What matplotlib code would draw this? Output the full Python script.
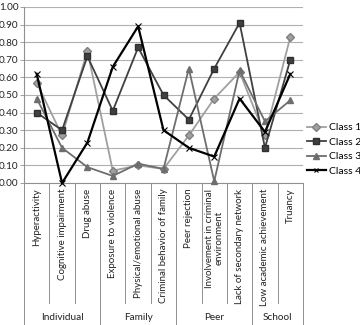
import matplotlib
matplotlib.use("Agg")
import matplotlib.pyplot as plt
from matplotlib.lines import Line2D

plt.rcParams['font.family'] = ['Lato', 'DejaVu Sans']

categories = [
    "Hyperactivity", "Cognitive impairment", "Drug abuse",
    "Exposure to violence", "Physical/emotional abuse", "Criminal behavior of family",
    "Peer rejection", "Involvement in criminal\nenvironment", "Lack of secondary network",
    "Low academic achievement", "Truancy",
]
groups = ["Individual", "Family", "Peer", "School"]
group_sizes = [3, 3, 3, 2]

class1 = [0.57, 0.27, 0.75, 0.07, 0.10, 0.08, 0.27, 0.48, 0.63, 0.27, 0.83]
class2 = [0.40, 0.30, 0.72, 0.41, 0.77, 0.50, 0.36, 0.65, 0.91, 0.20, 0.70]
class3 = [0.48, 0.20, 0.09, 0.04, 0.11, 0.08, 0.65, 0.01, 0.64, 0.35, 0.47]
class4 = [0.62, 0.00, 0.23, 0.66, 0.89, 0.30, 0.20, 0.15, 0.48, 0.29, 0.62]
series_names = ["Class 1", "Class 2", "Class 3", "Class 4"]

W, H = 360, 325
fig = plt.figure(figsize=(W / 100, H / 100), dpi=100)
ax = fig.add_axes([24 / W, 1 - 183 / H, (303 - 24) / W, (183 - 7) / H])

x = list(range(len(categories)))
styles = [
    dict(color="#a0a0a0", marker="D", ms=4.5, lw=1.3, mfc="#a0a0a0", mec="#808080"),
    dict(color="#404040", marker="s", ms=4.5, lw=1.3, mfc="#404040", mec="#303030"),
    dict(color="#6e6e6e", marker="^", ms=4.5, lw=1.3, mfc="#6e6e6e", mec="#6e6e6e"),
    dict(color="#000000", marker="x", ms=4, lw=1.6, mew=0.8),
]
for vals, name, st in zip([class1, class2, class3, class4], series_names, styles):
    ax.plot(x, vals, label=name, zorder=3, clip_on=False, **st)

ax.set_xlim(-0.5, len(categories) - 0.5)
ax.set_ylim(0, 1)
ax.set_yticks([i / 10 for i in range(11)])
ax.set_yticklabels([f"{i / 10:.2f}" for i in range(11)], fontsize=7.2, color="#222222")
ax.yaxis.grid(True, color="#b0b0b0", lw=0.8)
ax.set_axisbelow(True)
for s in ["top", "right"]:
    ax.spines[s].set_visible(False)
ax.spines["left"].set_color("#909090")
ax.spines["bottom"].set_color("#909090")
ax.tick_params(axis="y", length=3, width=0.6, color="#909090", pad=1)

ax.set_xticks(x)
ax.set_xticklabels(categories, rotation=90, fontsize=7, color="#222222",
                   multialignment="center", va="top", ha="center")
ax.tick_params(axis="x", length=0, pad=4)

# category separators and group separators below the axis
tr = ax.get_xaxis_transform()
bounds = [-0.5]
for n in group_sizes:
    bounds.append(bounds[-1] + n)
for b in [i - 0.5 for i in range(len(categories) + 1)]:
    low = -0.82 if b in bounds else -0.68
    ax.add_line(Line2D([b, b], [0, low], transform=tr, color="#909090", lw=0.7, clip_on=False))
for g, a, b in zip(groups, bounds[:-1], bounds[1:]):
    ax.text((a + b) / 2, -0.765, g, transform=tr, ha="center", va="center",
            fontsize=7.2, color="#222222")

fig.legend(loc="upper left", bbox_to_anchor=(307 / W, 1 - 123 / H), frameon=False,
           fontsize=7.5, handlelength=1.8, handletextpad=0.3, labelspacing=0.5,
           borderaxespad=0, borderpad=0, markerscale=0.85)

fig.savefig("out.png", dpi=100)
